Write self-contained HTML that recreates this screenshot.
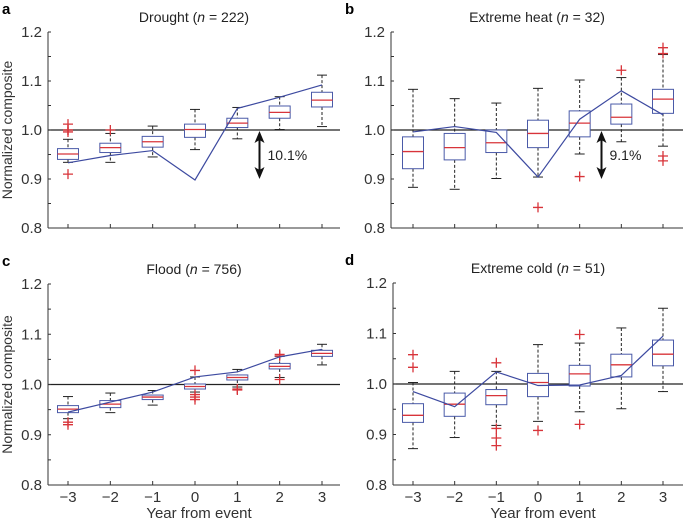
<!DOCTYPE html>
<html><head><meta charset="utf-8"><style>
body{margin:0;background:#fff}
svg{display:block;font-family:"Liberation Sans",sans-serif}
</style></head><body>
<svg id="fig" width="685" height="520" viewBox="0 0 685 520" xmlns="http://www.w3.org/2000/svg"></svg>
<script>
const categories=[-3,-2,-1,0,1,2,3];
const titles=["Drought","Extreme heat","Flood","Extreme cold"];
const counts=[222,32,756,51];
const letters=["a","b","c","d"];
const yTicks=[0.8,0.9,1.0,1.1,1.2];
const yTickLabels=["0.8","0.9","1.0","1.1","1.2"];
// [lowerWhisker,q1,median,q3,upperWhisker]
const boxesA=[[0.934,0.94,0.951,0.962,0.981],[0.934,0.954,0.964,0.973,0.993],[0.945,0.965,0.976,0.987,1.008],[0.96,0.985,1.001,1.012,1.042],[0.982,1.005,1.014,1.024,1.046],[1.001,1.024,1.036,1.049,1.068],[1.007,1.047,1.061,1.077,1.112]];
const outliersA=[[1.012,1.0,1.0,0.996,0.91],[1.0],[],[],[],[],[]];
const lineA=[0.933,0.948,0.958,0.898,1.044,1.067,1.092];
const boxesB=[[0.883,0.921,0.956,0.986,1.083],[0.879,0.939,0.964,0.993,1.064],[0.901,0.954,0.974,1.0,1.055],[0.904,0.964,0.993,1.02,1.085],[0.951,0.986,1.014,1.039,1.102],[0.976,1.012,1.026,1.053,1.107],[0.967,1.034,1.063,1.083,1.154]];
const outliersB=[[],[],[],[0.842],[0.905],[1.122],[1.168,1.156,0.947,0.937]];
const lineB=[0.996,1.007,0.995,0.904,1.022,1.08,1.031];
const boxesC=[[0.932,0.944,0.951,0.958,0.976],[0.944,0.954,0.961,0.968,0.983],[0.959,0.97,0.975,0.979,0.988],[0.985,0.991,0.996,1.001,1.015],[0.995,1.009,1.014,1.019,1.03],[1.014,1.031,1.036,1.042,1.056],[1.039,1.056,1.062,1.068,1.08]];
const outliersC=[[0.925,0.92],[],[],[1.028,0.98,0.975,0.97],[0.991,0.989],[1.06,1.057,1.01],[]];
const lineC=[0.945,0.965,0.985,1.015,1.025,1.055,1.07];
const boxesD=[[0.872,0.924,0.938,0.961,1.003],[0.894,0.936,0.96,0.982,1.025],[0.918,0.959,0.977,0.989,1.025],[0.926,0.975,1.003,1.021,1.078],[0.945,0.996,1.02,1.037,1.081],[0.951,1.014,1.038,1.059,1.111],[0.985,1.036,1.059,1.087,1.15]];
const outliersD=[[1.058,1.033],[],[1.042,0.912,0.893,0.878],[0.908],[1.098,0.92],[],[]];
const lineD=[0.985,0.955,1.024,0.997,0.998,1.017,1.095];
const arrowsPct=["10.1%","9.1%",null,null];

const NS="http://www.w3.org/2000/svg";
const svg=document.getElementById("fig");
function mk(tag,attrs,parent,text){const e=document.createElementNS(NS,tag);for(const k in attrs)e.setAttribute(k,attrs[k]);if(text!=null)e.textContent=text;(parent||svg).appendChild(e);return e;}

const panels=[
 {left:48,x0:68,x1:322,right:340,top:32,bot:228,boxes:boxesA,out:outliersA,line:lineA,xl:false,yl:true},
 {left:391,x0:413,x1:663,right:683,top:32,bot:228,boxes:boxesB,out:outliersB,line:lineB,xl:false,yl:false},
 {left:48,x0:68,x1:322,right:340,top:284,bot:485,boxes:boxesC,out:outliersC,line:lineC,xl:true,yl:true},
 {left:393,x0:413,x1:663,right:683,top:283,bot:485,boxes:boxesD,out:outliersD,line:lineD,xl:true,yl:false}];

panels.forEach((p,i)=>{
 const g=mk("g",{});
 
 
 const X=c=>p.x0+(c-categories[0])*(p.x1-p.x0)/(categories[categories.length-1]-categories[0]);
 const Y=v=>p.bot-(v-0.8)*(p.bot-p.top)/0.4;
 const pl=mk("text",{x:i%2?345:2,y:p.top-18,"font-size":"15","font-weight":"bold"},g,letters[i]);
 
 
 const t=mk("text",{x:(p.left+p.right)/2,y:p.top-10,"font-size":"14","text-anchor":"middle",fill:"#222"},g);
 
 
 t.innerHTML=titles[i]+" (<tspan font-style='italic'>n</tspan> = "+counts[i]+")";
 // axes
 mk("line",{x1:p.left,y1:p.top,x2:p.left,y2:p.bot,stroke:"#333","stroke-width":1},g);
 mk("line",{x1:p.left,y1:p.bot,x2:p.right,y2:p.bot,stroke:"#333","stroke-width":1},g);
 const ref=mk("line",{x1:p.left,y1:Y(1),x2:p.right,y2:Y(1),stroke:"#222","stroke-width":1.2},g);
 
 
 for(let v=0.8;v<=1.2001;v+=0.05){mk("line",{x1:p.left,y1:Y(v),x2:p.left+3,y2:Y(v),stroke:"#333"},g);}
 yTicks.forEach((v,k)=>{const tl=mk("text",{x:p.left-6,y:Y(v)+5,"font-size":"15","text-anchor":"end",fill:"#333"},g,yTickLabels[k]);
  
  });
 if(p.yl){const yl=mk("text",{transform:`translate(12,${(p.top+p.bot)/2}) rotate(-90)`,"font-size":"14","text-anchor":"middle",fill:"#333"},g,"Normalized composite");
  
  }
 categories.forEach((c,k)=>{
  const x=X(c);
  mk("line",{x1:x,y1:p.bot,x2:x,y2:p.bot-4,stroke:"#333"},g);
  if(p.xl){const xt=mk("text",{x:x,y:p.bot+17,"font-size":"15","text-anchor":"middle",fill:"#333"},g,c<0?"\u2212"+(-c):String(c));
   
   }
  const b=p.boxes[k];const w=10.5;
  const bg=mk("g",{},g);
  
  
  mk("line",{x1:x,y1:Y(b[4]),x2:x,y2:Y(b[3]),stroke:"#222","stroke-dasharray":"3,2"},bg);
  mk("line",{x1:x,y1:Y(b[1]),x2:x,y2:Y(b[0]),stroke:"#222","stroke-dasharray":"3,2"},bg);
  mk("line",{x1:x-5,y1:Y(b[4]),x2:x+5,y2:Y(b[4]),stroke:"#222"},bg);
  mk("line",{x1:x-5,y1:Y(b[0]),x2:x+5,y2:Y(b[0]),stroke:"#222"},bg);
  mk("rect",{x:x-w,y:Y(b[3]),width:2*w,height:Y(b[1])-Y(b[3]),fill:"#fff",stroke:"#4a5aa8","stroke-width":1},bg);
  mk("line",{x1:x-w,y1:Y(b[2]),x2:x+w,y2:Y(b[2]),stroke:"#d8343a","stroke-width":1.3},bg);
  p.out[k].forEach(v=>{const y=Y(v);
   const o=mk("path",{d:`M${x-5} ${y}H${x+5}M${x} ${y-5}V${y+5}`,stroke:"#d8343a","stroke-width":1.3},bg);
   
   });
 });
 const ln=mk("polyline",{points:p.line.map((v,k)=>X(categories[k])+","+Y(v)).join(" "),fill:"none",stroke:"#3d4aa0","stroke-width":1.2},g);
 
 
 if(p.xl){const xa=mk("text",{x:(p.left+p.right)/2+5,y:p.bot+33,"font-size":"15","text-anchor":"middle",fill:"#333"},g,"Year from event");
  
  }
 if(arrowsPct[i]){const ax=(X(1)+X(2))/2+1;const y1=Y(1.0)+1,y2=Y(0.9);
  const ag=mk("g",{},g);
  
  
  mk("line",{x1:ax,y1:y1+8,x2:ax,y2:y2-8,stroke:"#111","stroke-width":2},ag);
  mk("path",{d:`M${ax} ${y1}L${ax-5} ${y1+12}L${ax} ${y1+9}L${ax+5} ${y1+12}Z`,fill:"#111"},ag);
  mk("path",{d:`M${ax} ${y2}L${ax-5} ${y2-12}L${ax} ${y2-9}L${ax+5} ${y2-12}Z`,fill:"#111"},ag);
  const at=mk("text",{x:ax+8,y:(y1+y2)/2+5,"font-size":"14",fill:"#222"},ag,arrowsPct[i]);
  
  }
});
</script>
</body></html>
